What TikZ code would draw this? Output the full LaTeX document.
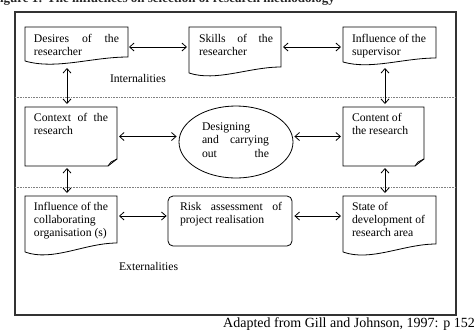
\documentclass[tikz,border=0pt]{standalone}
\usepackage{fontspec}
\setmainfont{Liberation Serif}
\usetikzlibrary{arrows.meta,shapes.geometric}
\newcommand\lns[1]{\vtop{\baselineskip=13.4pt\lineskiplimit=-20pt #1}}
\newcommand\jl[2]{\hbox{\makebox[#1pt][s]{#2}}}
\newcommand\pl[1]{\hbox{#1}}
% document shape: x1 y1 x2 yL yR ctrl
\newcommand\docshape[6]{\draw[boxline] (#1,#4) -- (#1,#2) -- (#3,#2) -- (#3,#5)
  .. controls ({#1+0.65*(#3-#1)},#5) and ({#1+0.3*(#3-#1)},#6) .. (#1,#4);}
% folded corner: x1 y1 x2 y2
\newcommand\foldshape[4]{\draw[boxline] (#1,#2) -- (#3,#2) -- (#3,{#4-7}) -- ({#3-9},#4) -- (#1,#4) -- cycle;
  \draw[boxline, line join=round] (#3,{#4-7}) -- ({#3-6},{#4-4}) -- ({#3-9},#4);}
\begin{document}
\begin{tikzpicture}[x=1pt,y=-1pt,
  boxline/.style={line width=0.8pt, black},
  dbl/.style={line width=0.8pt, {Straight Barb[length=4.5pt,width=8pt]}-{Straight Barb[length=4.5pt,width=8pt]}},
  anc/.style={inner sep=0pt, outer sep=0pt, draw=none},
  txt/.style={inner sep=0pt, outer sep=0pt, anchor=base west, font=\fontsize{11.7}{13.4}\selectfont},
  sep/.style={gray, line width=0.6pt, dash pattern=on 0.8pt off 0.8pt}]
\useasboundingbox (0,0) rectangle (474,333);
% title (cut off at the top)
\node[inner sep=0pt, anchor=base east, font=\fontsize{13}{15}\selectfont\bfseries, black!85] (title) at (335,2.3) {Figure 1: The influences on selection of research methodology};
% frame and separators
\draw[line width=1.1pt, black!80] (15,12) rectangle (456,315);
\draw[sep] (15,97) -- (456,97);
\draw[sep] (15,187) -- (456,187);
% shapes
\docshape{25}{27}{128}{61}{57}{70}
\docshape{189}{27}{281}{73}{67}{82}
\docshape{343}{27}{436}{62}{58}{70}
\foldshape{25}{107}{117}{166}
\foldshape{343}{107}{424}{166}
\docshape{25}{196}{117}{252}{243}{262}
\docshape{343}{196}{436}{252}{244}{262}
% named areas
\node[anc, minimum width=103pt, minimum height=40pt] (desires) at (76.5,47) {};
\node[anc, minimum width=92pt, minimum height=40pt] (skills) at (235,47) {};
\node[anc, minimum width=93pt, minimum height=40pt] (sup) at (389.5,47) {};
\node[anc, minimum width=92pt, minimum height=59pt] (context) at (71,136.5) {};
\node[ellipse, draw, line width=0.8pt, inner sep=0pt, minimum width=114pt, minimum height=72pt] (ell) at (236,142) {};
\node[anc, minimum width=81pt, minimum height=59pt] (content) at (383.5,136.5) {};
\node[anc, minimum width=92pt, minimum height=40pt] (collab) at (71,216) {};
\node[draw, line width=0.8pt, rounded corners=5pt, inner sep=0pt, minimum width=124pt, minimum height=50pt] (risk) at (230,221) {};
\node[anc, minimum width=93pt, minimum height=40pt] (state) at (389.5,216) {};
% texts
\node[txt] (t-desires) at (34,42) {\lns{\jl{85}{Desires of the}\pl{researcher}}};
\node[txt] (t-skills) at (199,42) {\lns{\jl{74}{Skills of the}\pl{researcher}}};
\node[txt] (t-sup) at (352,42) {\lns{\jl{74}{Influence of the}\pl{supervisor}}};
\node[txt] (t-context) at (34,121) {\lns{\jl{74}{Context of the}\pl{research}}};
\node[txt] (t-ell) at (202,130.5) {\lns{\pl{Designing}\jl{67}{and carrying}\jl{67}{out the}}};
\node[txt] (t-content) at (352,121) {\lns{\pl{Content of}\pl{the research}}};
\node[txt] (t-collab) at (34,210) {\lns{\jl{74}{Influence of the}\pl{collaborating}\pl{organisation (s)}}};
\node[txt] (t-risk) at (180,210) {\lns{\jl{102}{Risk assessment of}\pl{project realisation}}};
\node[txt] (t-state) at (352,210) {\lns{\pl{State of}\pl{development of}\pl{research area}}};
\node[txt] (internal) at (110,82) {Internalities};
\node[txt] (external) at (119,270) {Externalities};
\node[inner sep=0pt, anchor=base west, font=\fontsize{14}{16}\selectfont] (source) at (223,327) {Adapted from Gill and Johnson, 1997: p 152};
% connectors
\coordinate (colL) at (67,0);
\coordinate (colR) at (385,0);
\draw[dbl, shorten <=1pt, shorten >=2pt] (desires.east) -- (skills.west);
\draw[dbl, shorten <=2pt, shorten >=2pt] (skills.east) -- (sup.west);
\draw[dbl, shorten <=1pt, shorten >=3pt] (desires.south -| colL) -- (context.north -| colL);
\draw[dbl, shorten <=1pt, shorten >=3pt] (sup.south -| colR) -- (content.north -| colR);
\draw[dbl, shorten <=2pt, shorten >=2pt] (context.east) -- (ell.west |- context.east);
\draw[dbl, shorten <=1pt, shorten >=2pt] (ell.east |- content.west) -- (content.west);
\draw[dbl, shorten <=2pt, shorten >=3pt] (context.south -| colL) -- (collab.north -| colL);
\draw[dbl, shorten <=2pt, shorten >=3pt] (content.south -| colR) -- (state.north -| colR);
\draw[dbl, shorten <=2pt, shorten >=1pt] (collab.east) -- (risk.west |- collab.east);
\draw[dbl, shorten <=2pt, shorten >=2pt] (risk.east |- state.west) -- (state.west);
\end{tikzpicture}
\end{document}
